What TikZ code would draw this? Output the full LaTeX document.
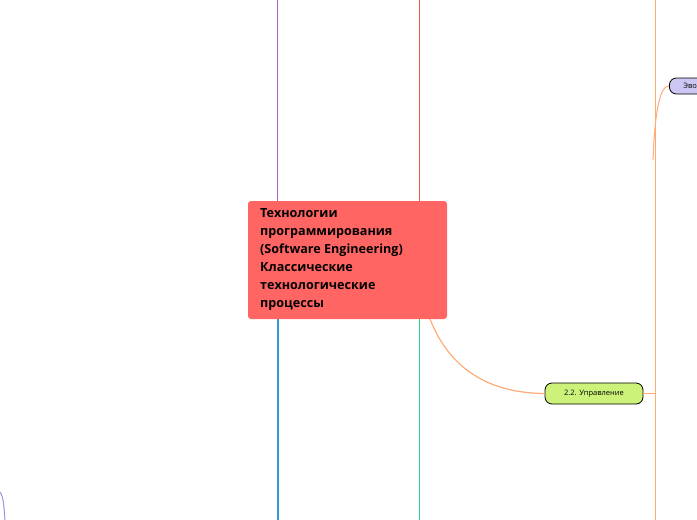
\documentclass[tikz,border=0pt]{standalone}
\usepackage{fontspec}
\setmainfont{Open Sans}
\definecolor{mainred}{HTML}{FF6663}
\definecolor{lime}{HTML}{CCF27A}
\definecolor{lilac}{HTML}{CCC6F2}
\definecolor{orng}{HTML}{FFAA77}
\definecolor{purp}{HTML}{A860D0}
\definecolor{redl}{HTML}{F05A50}
\definecolor{bluel}{HTML}{28A0D2}
\definecolor{greenl}{HTML}{30D090}
\definecolor{lilacl}{HTML}{9A90E0}
\begin{document}
\begin{tikzpicture}[x=1pt,y=-1pt,
  topic/.style={draw=black,line width=0.8pt,rounded corners=7pt,inner sep=0pt,font=\fontsize{7.5}{8}\selectfont}]
\useasboundingbox (0,0) rectangle (697,520);
\fill[purp] (276.7,0) rectangle (278.3,201);
\fill[redl] (418.7,0) rectangle (420.3,201);
\fill[bluel] (276.5,319) rectangle (278.5,520);
\fill[greenl] (418.7,319) rectangle (420.3,520);
\node[fill=mainred,rounded corners=3pt,minimum width=199pt,minimum height=118pt,inner sep=0pt] (c) at (347.5,260) {};
\node[anchor=north west,align=left,font=\bfseries\fontsize{12.6}{18}\selectfont,inner sep=0pt] (ct) at (260,208)
 {Технологии\\программирования\\(Software Engineering)\\Классические\\технологические\\процессы};
\node[topic,fill=lime,minimum width=98pt,minimum height=21pt] (u) at (594,393.5) {2.2. Управление};
\node[topic,fill=lilac,minimum width=60pt,minimum height=16pt,anchor=west,text width=50pt] (e) at (669,86) {\hspace*{9pt}Эволюция};
\draw[orng,line width=1.2pt] (430,319) .. controls (450,370) and (490,393) .. (u.west);
\draw[orng,line width=1.2pt] (u.east) -- (655.5,393.5);
\fill[orng] (654.7,0) rectangle (656.3,520);
\draw[orng,line width=1pt] (653,160) .. controls (655,110) and (660,86) .. (e.west);
\draw[lilacl,line width=1pt] (0,492) .. controls (4,497) and (4,510) .. (5,520);
\end{tikzpicture}
\end{document}
